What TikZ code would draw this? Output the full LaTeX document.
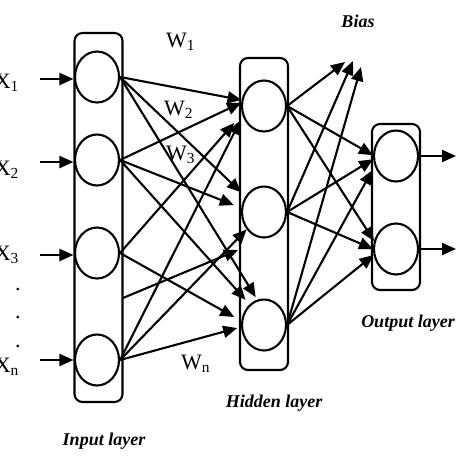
\documentclass[tikz,border=0pt]{standalone}
\usepackage{fontspec}
\setmainfont{Liberation Serif}
\usetikzlibrary{arrows.meta,shapes.geometric}
\begin{document}
\begin{tikzpicture}[x=1pt,y=-1pt,line width=2.1pt,
    neuron/.style={draw,ellipse,minimum width=44pt,minimum height=51pt,inner sep=0pt},
    layerbox/.style={draw,rounded corners=8pt,minimum width=48pt,inner sep=0pt},
    wire/.style={-{Triangle[length=14pt,width=12pt]}},
    lbl/.style={font=\fontsize{22}{24}\selectfont,inner sep=0pt},
    caption/.style={font=\fontsize{18}{20}\selectfont\bfseries\itshape,inner sep=0pt}]
        \useasboundingbox (0,0) rectangle (474,474);
        % layer boxes
        \node[layerbox,minimum height=369pt] (LI) at (98.5,217.5) {};
        \node[layerbox,minimum height=312pt] (LH) at (264,214) {};
        \node[layerbox,minimum height=166pt] (LO) at (396,207) {};
        % neurons
        \node[neuron] (I1) at (97,77) {};
        \node[neuron] (I2) at (97,160) {};
        \node[neuron] (I3) at (97,253) {};
        \node[neuron] (In) at (97,360) {};
        \node[neuron] (H1) at (264,106) {};
        \node[neuron] (H2) at (264,212) {};
        \node[neuron] (H3) at (264,325) {};
        \node[neuron] (O1) at (396,156) {};
        \node[neuron] (O2) at (396,249) {};
        % free ends
        \coordinate (x1) at (40,79);
        \coordinate (x2) at (40,162);
        \coordinate (x3) at (40,255);
        \coordinate (xn) at (40,360);
        \coordinate (d1) at (123,298);
        \coordinate (d2) at (238,250);
        \coordinate (b1) at (345,62);
        \coordinate (b2) at (353,61);
        \coordinate (b3) at (361,67);
        \coordinate (y1) at (456,156);
        \coordinate (y2) at (456,249);
        % inputs
        \draw[wire] (x1) to (LI.west |- x1);
        \draw[wire] (x2) to (LI.west |- x2);
        \draw[wire] (x3) to (LI.west |- x3);
        \draw[wire] (xn) to (LI.west |- xn);
        \node[lbl,anchor=base east] (X1) at (20,88) {X\textsubscript{1}};
        \node[lbl,anchor=base east] (X2) at (20,175) {X\textsubscript{2}};
        \node[lbl,anchor=base east] (X3) at (20,260) {X\textsubscript{3}};
        \node[lbl,anchor=base east] (Xn) at (20,372) {X\textsubscript{n}};
        \node[lbl] (p1) at (18,290) {.};
        \node[lbl] (p2) at (18,318) {.};
        \node[lbl] (p3) at (18,347) {.};
        % input -> hidden
        \draw[wire] (I1.east) to (H1.165);
        \draw[wire] (I2.east) to (H1.172);
        \draw[wire,shorten >=12pt] (I3.east) to (H1.200);
        \draw[wire,shorten >=5pt] (In.east) to (H1.205);
        \draw[wire,shorten >=6pt] (I1.east) to (H2.140);
        \draw[wire,shorten >=8pt] (I2.east) to (H2.170);
        \draw[wire] (In.east) to (H2.225);
        \draw[wire] (d1) to (d2);
        \draw[wire,shorten >=3pt] (I1.east) to (H3.105);
        \draw[wire,shorten >=6pt] (I2.east) to (H3.125);
        \draw[wire,shorten >=8pt] (I3.east) to (H3.170);
        \draw[wire,shorten >=4pt] (In.east) to (H3.185);
        % hidden -> output
        \draw[wire] (H1.east) to (O1.178);
        \draw[wire] (H2.east) to (O1.188);
        \draw[wire,shorten >=5pt] (H3.east) to (O1.205);
        \draw[wire] (H1.east) to (O2.160);
        \draw[wire] (H2.east) to (O2.west);
        \draw[wire] (H3.east) to (O2.195);
        % hidden -> bias
        \draw[wire] (H1.east) to (b1);
        \draw[wire] (H2.east) to (b2);
        \draw[wire] (H3.east) to (b3);
        % outputs
        \draw[wire] (O1.east) to (y1);
        \draw[wire] (O2.east) to (y2);
        % weights
        \node[lbl,anchor=base west] (W1) at (165,47) {W\textsubscript{1}};
        \node[lbl,anchor=base west] (W2) at (163,115) {W\textsubscript{2}};
        \node[lbl,anchor=base west] (W3) at (165,160) {W\textsubscript{3}};
        \node[lbl,anchor=base west] (Wn) at (180,369) {W\textsubscript{n}};
        % captions
        \node[caption,anchor=base] (cb) at (358,27) {Bias};
        \node[caption,anchor=base] (ci) at (104,445) {Input layer};
        \node[caption,anchor=base] (ch) at (274,407) {Hidden layer};
        \node[caption,anchor=base] (co) at (408,327) {Output layer};
    \end{tikzpicture}
\end{document}
